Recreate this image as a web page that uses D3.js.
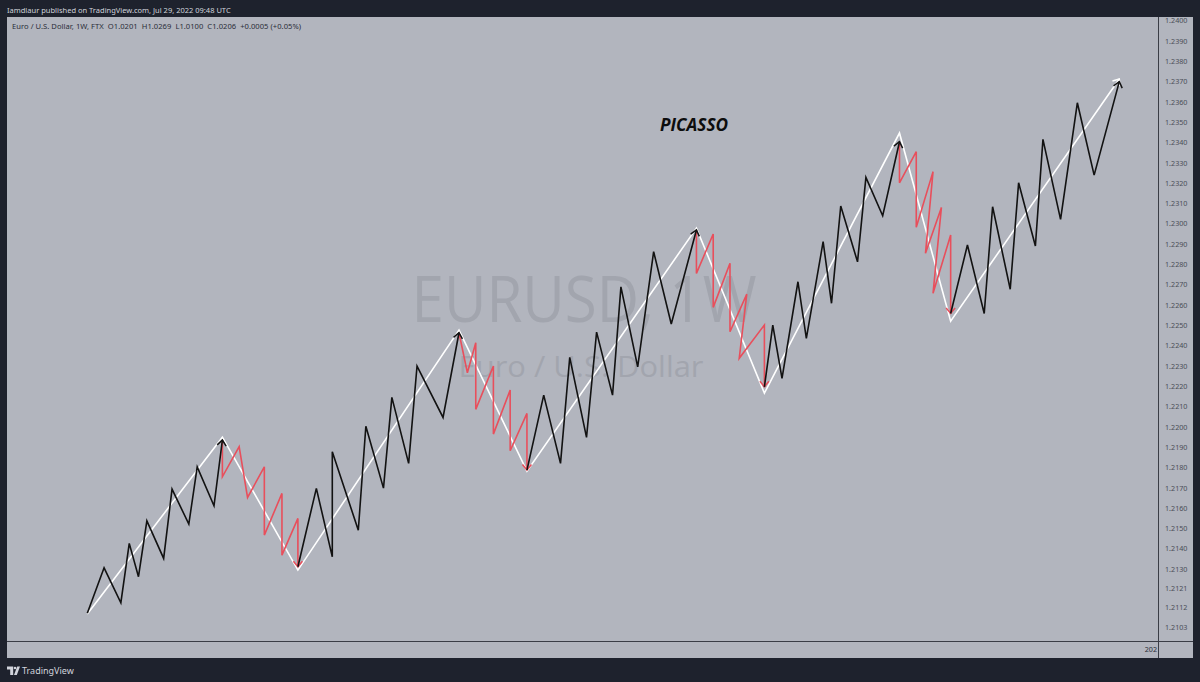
<!DOCTYPE html>
<html><head><meta charset="utf-8">
<script src="https://cdn.jsdelivr.net/npm/d3@7"></script>
<style>body{margin:0;background:#1e222d}svg{display:block}</style>
</head><body>
<svg id="c" width="1200" height="682"></svg>
<script>
// ---------- text ----------
const headerText = "Iamdlaur published on TradingView.com, Jul 29, 2022 09:48 UTC";
const legendText = "Euro / U.S. Dollar, 1W, FTX  O1.0201  H1.0269  L1.0100  C1.0206  +0.0005 (+0.05%)";
const watermark1 = "EURUSD, 1W";
const watermark2 = "Euro / U.S. Dollar";
const titleText = "PICASSO";
const timeLabel = "202";

// ---------- price axis ticks ----------
const priceTicks = [1.2400,1.2390,1.2380,1.2370,1.2360,1.2350,1.2340,1.2330,1.2320,1.2310,1.2300,
  1.2290,1.2280,1.2270,1.2260,1.2250,1.2240,1.2230,1.2220,1.2210,1.2200,1.2190,1.2180,1.2170,
  1.2160,1.2150,1.2140,1.2130,1.2121,1.2112,1.2103];

// ---------- data: [bar index, price] ----------
const up1 = [[0,1.21094],[2,1.21306],[4,1.21143],[5,1.21426],[6.1,1.21264],[7.1,1.21537],[9.1,1.21352],[10.1,1.21693],[12.1,1.21521],[13.1,1.21803],[15.1,1.21611],[16.1,1.21935]];
const down1 = [[16.1,1.21935],[16.1,1.21754],[18.1,1.21902],[19.1,1.21652],[21.1,1.21803],[21.1,1.21467],[23.2,1.21672],[23.2,1.21368],[25.1,1.21549],[25.1,1.21311]];
const up2 = [[25.1,1.21311],[27.3,1.21697],[29.2,1.21360],[29.2,1.21877],[32.3,1.21491],[33.2,1.22003],[35.3,1.21698],[36.3,1.22145],[38.3,1.21820],[39.3,1.22299],[42.4,1.22046],[44.3,1.22463]];
const down2 = [[44.3,1.22463],[45.3,1.22266],[46.3,1.22414],[46.3,1.22086],[48.4,1.22299],[48.4,1.21964],[50.4,1.22181],[50.4,1.21882],[52.4,1.22066],[52.4,1.21787]];
const up3 = [[52.4,1.21787],[54.4,1.22156],[56.4,1.21820],[57.5,1.22342],[59.5,1.21948],[60.7,1.22466],[62.6,1.22156],[63.6,1.22689],[65.6,1.22295],[67.5,1.22862],[69.6,1.22506],[72.6,1.22969]];
const down3 = [[72.6,1.22969],[72.6,1.22755],[74.6,1.22949],[74.6,1.22588],[76.6,1.22805],[76.6,1.22468],[78.6,1.22653],[77.7,1.22337],[80.7,1.22501],[80.7,1.22197]];
const up4 = [[80.7,1.22197],[81.7,1.22501],[82.8,1.22238],[84.7,1.22714],[85.7,1.22435],[87.7,1.22911],[88.7,1.22608],[89.8,1.23087],[91.8,1.22812],[92.8,1.23228],[94.8,1.23039],[96.8,1.23403]];
const down4 = [[96.8,1.23403],[96.8,1.23201],[98.8,1.23354],[98.8,1.22982],[100.8,1.23256],[99.9,1.22854],[101.8,1.23080],[100.8,1.22657],[102.9,1.22944],[102.9,1.22558]];
const up5 = [[102.9,1.22558],[104.9,1.22895],[106.9,1.22558],[107.9,1.23083],[110,1.22677],[111,1.23201],[113,1.22890],[113.9,1.23415],[116,1.23021],[118,1.23595],[120,1.23239],[123,1.23699]];
const swingPivots = [[0,1.21091],[16.1,1.21949],[25.1,1.21295],[44.3,1.22476],[52.4,1.21782],[72.6,1.22978],[80.7,1.22166],[96.8,1.23446],[102.9,1.22520],[123,1.23712]];

const upLegs = [up1, up2, up3, up4, up5];
const downLegs = [down1, down2, down3, down4];

// ---------- layout ----------
const W = 1200, H = 682;
const panel = {x:7, y:17, r:1193, b:658};
const plotRight = 1158, plotBottom = 641;
const COL = {bg:"#1e222d", panel:"#b2b5be", black:"#121212", red:"#e84f5c", white:"#ffffff",
             wm:"#a2a5ae", axisText:"#4a4d57", border:"#3a3d46"};

const svg = d3.select("#c");
svg.append("rect").attr("width",W).attr("height",H).attr("fill",COL.bg);

const x = d3.scaleLinear().domain([0,123]).range([87.3,1119.3]);
const y = d3.scaleLinear().domain([1.2103,1.2130,1.2400]).range([627,569,20.5]);

// header
svg.append("text").attr("x",7).attr("y",12.5).attr("fill","#d1d4dc")
  .attr("font-family","'Noto Sans', 'Open Sans', sans-serif").attr("font-size",7.5)
  .text(headerText);

// panel
svg.append("rect").attr("x",panel.x).attr("y",panel.y).attr("width",panel.r-panel.x)
  .attr("height",panel.b-panel.y).attr("fill",COL.panel);

// defs / markers
const defs = svg.append("defs");
defs.append("clipPath").attr("id","plotclip").append("rect")
  .attr("x",panel.x).attr("y",panel.y).attr("width",plotRight-panel.x).attr("height",plotBottom-panel.y);
function marker(id,color){
  defs.append("marker").attr("id",id).attr("viewBox","-8 -6 10 12")
    .attr("refX",0).attr("refY",0).attr("markerWidth",10).attr("markerHeight",12)
    .attr("markerUnits","userSpaceOnUse").attr("orient","auto")
    .append("path").attr("d","M-5.5,-4.5L0,0L-5.5,4.5").attr("fill","none")
    .attr("stroke",color).attr("stroke-width",1.5);
}
marker("mBlack",COL.black); marker("mRed",COL.red); marker("mWhite",COL.white);

// watermark
svg.append("text").attr("x",584).attr("y",321.5).attr("text-anchor","middle")
  .attr("fill",COL.wm).attr("font-family","'Open Sans','Noto Sans',sans-serif")
  .attr("font-size",64).attr("textLength",345).attr("lengthAdjust","spacingAndGlyphs")
  .text(watermark1);
svg.append("text").attr("x",581).attr("y",376.5).attr("text-anchor","middle")
  .attr("fill",COL.wm).attr("font-family","'Open Sans','Noto Sans',sans-serif")
  .attr("font-size",30).attr("textLength",245).attr("lengthAdjust","spacingAndGlyphs")
  .text(watermark2);

// legend
svg.append("text").attr("x",12).attr("y",29).attr("fill","#2a2e39")
  .attr("font-family","'Noto Sans','Open Sans',sans-serif").attr("font-size",7.6)
  .attr("textLength",289).attr("lengthAdjust","spacing")
  .style("white-space","pre").text(legendText);

// title
svg.append("text").attr("x",660).attr("y",131).attr("fill","#0d0d0d")
  .attr("font-family","'Open Sans','Noto Sans',sans-serif").attr("font-size",17.2)
  .attr("font-weight","bold").attr("font-style","italic").text(titleText);

// lines
const g = svg.append("g").attr("clip-path","url(#plotclip)");
const line = d3.line().x(d=>x(d[0])).y(d=>y(d[1]));

g.append("path").datum(swingPivots).attr("d",line).attr("fill","none")
  .attr("stroke",COL.white).attr("stroke-width",1.6).attr("stroke-linejoin","miter")
  .attr("marker-end","url(#mWhite)");

g.selectAll("path.down").data(downLegs).join("path").attr("class","down")
  .attr("d",line).attr("fill","none").attr("stroke",COL.red).attr("stroke-width",1.6)
  .attr("stroke-linejoin","miter").attr("marker-end","url(#mRed)");

g.selectAll("path.up").data(upLegs).join("path").attr("class","up")
  .attr("d",line).attr("fill","none").attr("stroke",COL.black).attr("stroke-width",1.6)
  .attr("stroke-linejoin","miter").attr("marker-end","url(#mBlack)");

// price axis
const yAxis = d3.axisRight(y).tickValues(priceTicks).tickFormat(d3.format(".4f")).tickSize(0).tickPadding(7);
const ya = svg.append("g").attr("transform",`translate(${plotRight},0)`).call(yAxis);
ya.select(".domain").remove();
ya.selectAll("text").attr("fill",COL.axisText).attr("font-size",7.2)
  .attr("font-family","'Noto Sans','Open Sans',sans-serif");

// borders
svg.append("line").attr("x1",plotRight+0.5).attr("x2",plotRight+0.5).attr("y1",panel.y).attr("y2",panel.b)
  .attr("stroke",COL.border).attr("stroke-width",1);
svg.append("line").attr("x1",panel.x).attr("x2",panel.r).attr("y1",plotBottom+0.5).attr("y2",plotBottom+0.5)
  .attr("stroke",COL.border).attr("stroke-width",1);

// time label
svg.append("text").attr("x",1157).attr("y",652).attr("text-anchor","end").attr("fill","#2a2e39")
  .attr("font-family","'Noto Sans','Open Sans',sans-serif").attr("font-size",7.2).text(timeLabel);

// TradingView logo
const logo = svg.append("g").attr("fill","#d1d4dc");
logo.append("path").attr("d","M7,666.5h6.2v8.5h-3v-5.5h-3.2z");
logo.append("circle").attr("cx",15).attr("cy",668).attr("r",1.3);
logo.append("path").attr("d","M17.2,666.5h2.8l-3.2,8.5h-2.8z");
svg.append("text").attr("x",22).attr("y",673.5).attr("fill","#d1d4dc")
  .attr("font-family","'Noto Sans','Open Sans',sans-serif").attr("font-size",9).text("TradingView");
</script>
</body></html>
